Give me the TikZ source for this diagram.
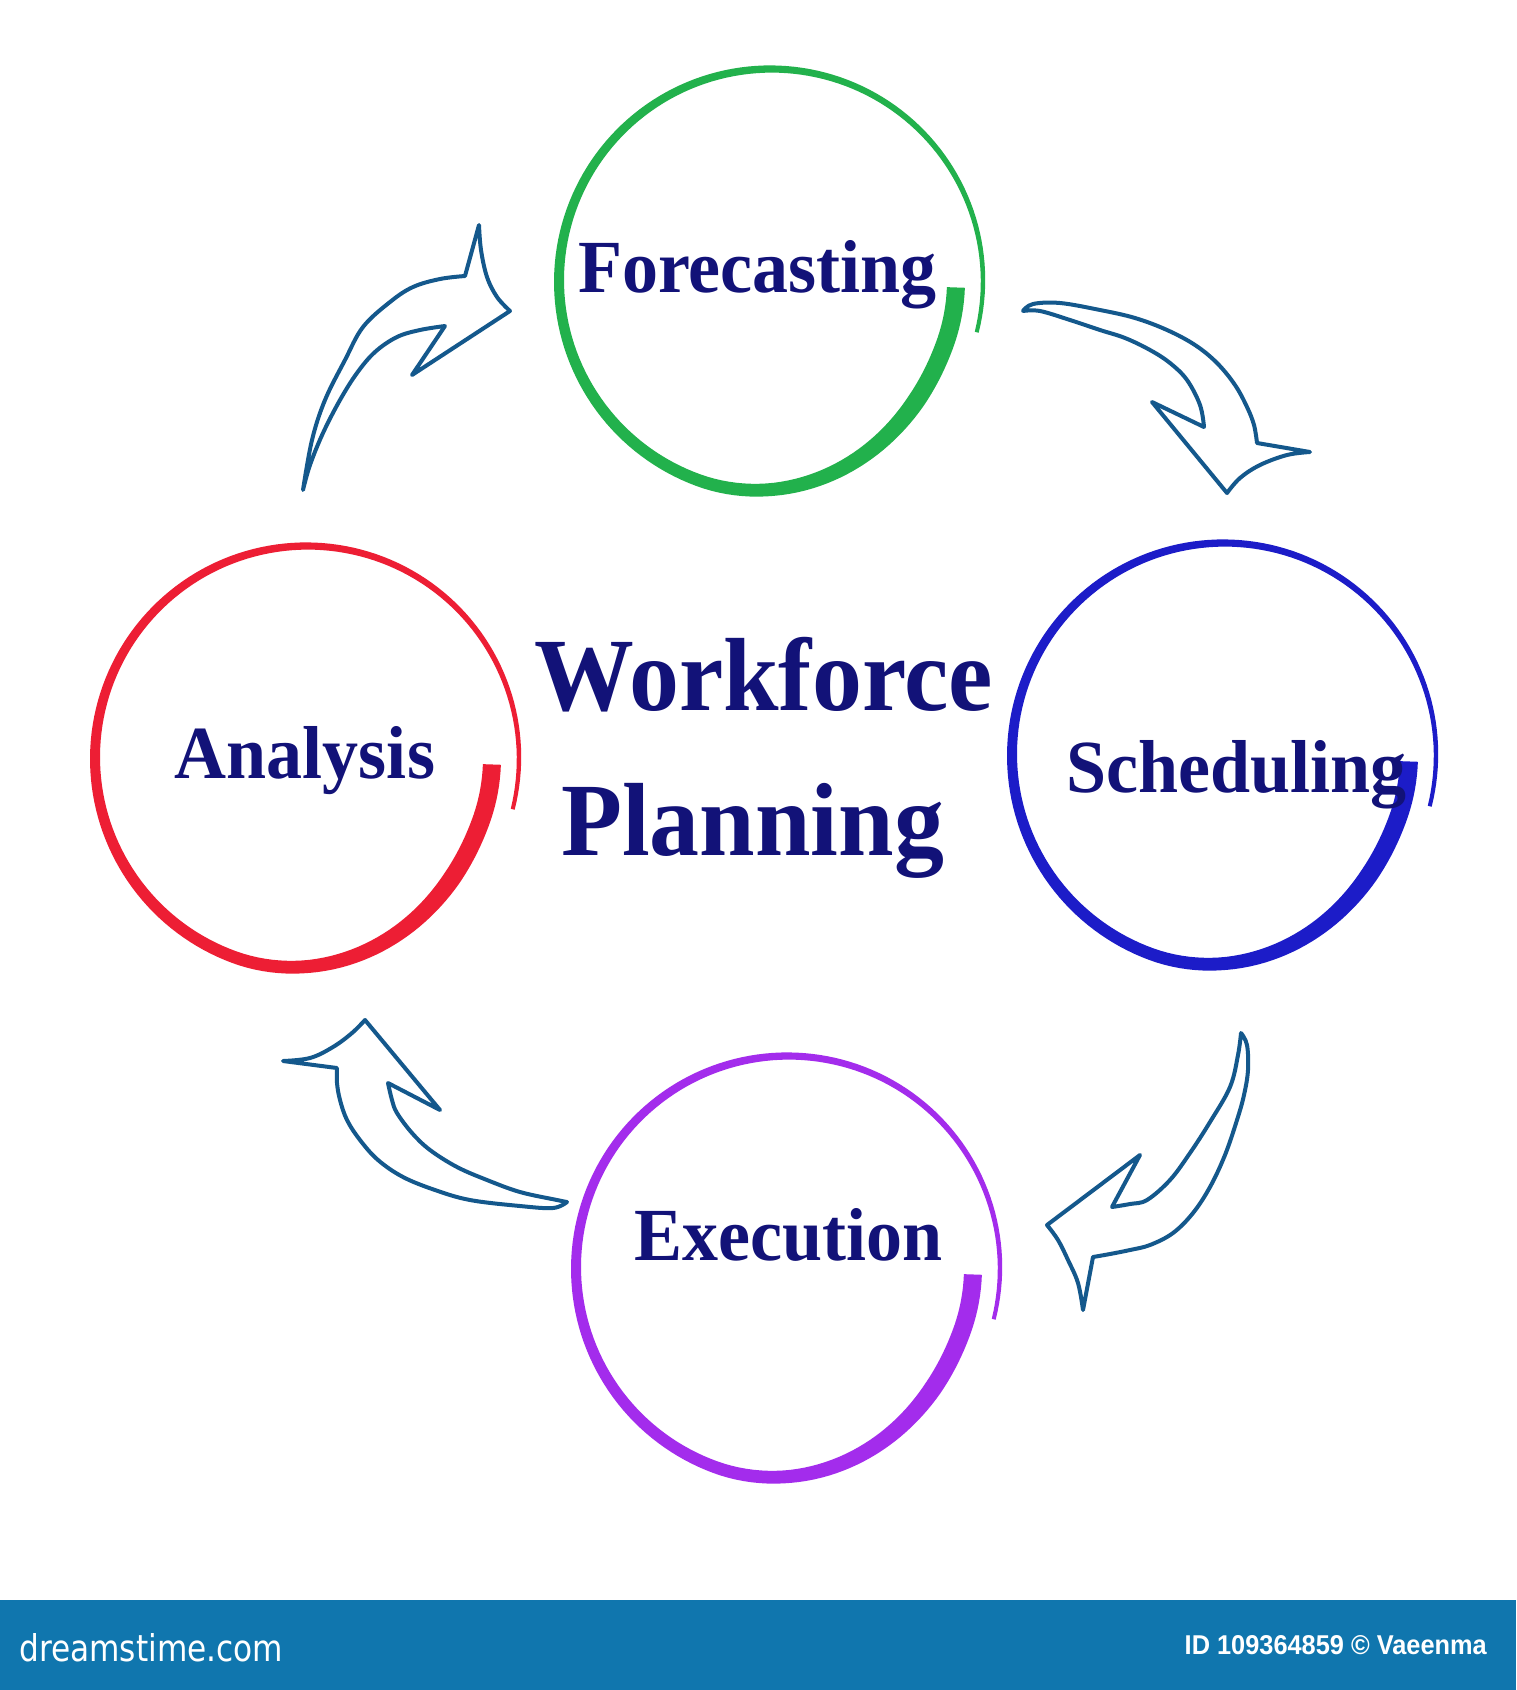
\documentclass[tikz,border=0pt]{standalone}
\usepackage{fontspec}
\usepackage{graphicx}
\setmainfont{Liberation Serif}
\newfontfamily\lblfont{Liberation Serif Bold}
\newfontfamily\barsans{Liberation Sans}
\newfontfamily\logosans{DejaVu Sans}
\definecolor{navy}{RGB}{18,18,120}
\definecolor{cgreen}{RGB}{34,177,76}
\definecolor{cblue}{RGB}{28,28,200}
\definecolor{cred}{RGB}{237,30,52}
\definecolor{cpurple}{RGB}{163,44,236}
\definecolor{arrowblue}{RGB}{20,88,140}
\definecolor{barblue}{RGB}{16,118,174}
\newcommand{\narrow}[1]{\scalebox{0.96}[1]{#1}}
\newcommand{\brushring}[3]{%
  \fill[#3] plot[domain=-14:358, samples=180, variable=\a]
      ({#1+(Rf(\a)+Wf(\a)/2)*cos(\a)}, {#2-(Rf(\a)+Wf(\a)/2)*sin(\a)})
   -- plot[domain=358:-14, samples=180, variable=\a]
      ({#1+(Rf(\a)-Wf(\a)/2)*cos(\a)}, {#2-(Rf(\a)-Wf(\a)/2)*sin(\a)}) -- cycle;}
\begin{document}
\begin{tikzpicture}[x=1pt,y=-1pt,
  declare function={uu(\a)=min(max((\a-250)/90,0),1);
    Rf(\a)=212-27*uu(\a)*uu(\a)*(3-2*uu(\a));
    Wf(\a)=min(4+6*(\a+14)/194,10)+max(0,min(3*(\a-180)/90,3))+max(0,min(5*(\a-270)/50,5));},
  lbl/.style={font=\lblfont\fontsize{75}{80}\selectfont, text=navy, inner sep=0pt, anchor=base},
  title/.style={font=\lblfont\fontsize{104}{110}\selectfont, text=navy, inner sep=0pt, anchor=base},
  arrowshape/.style={draw=arrowblue, fill=white, line width=4pt, line join=round}]
\useasboundingbox (0,0) rectangle (1516,1690);
\fill[white] (0,0) rectangle (1516,1690);

% brush circles
\brushring{771}{281}{cgreen}
\brushring{1224}{755}{cblue}
\brushring{307}{758}{cred}
\brushring{788}{1268}{cpurple}

% labels
\node[lbl] (fc) at (757.5,292) {\narrow{Forecasting}};
\node[lbl] (sc) at (1236.5,792) {\narrow{Scheduling}};
\node[lbl] (an) at (305,778) {\narrow{Analysis}};
\node[lbl] (ex) at (788.5,1260) {\narrow{Execution}};
\node[title] (wf) at (764,710) {\narrow{Workforce}};
\node[title] (pl) at (752.5,855) {\narrow{Planning}};

% arrow: Analysis -> Forecasting
\draw[arrowshape] plot[smooth, tension=0.6] coordinates {(303,490) (312,440) (325,400) (345,360) (363,327) (390,302) (413,287) (440,279) (465,276)}
  -- (479,225)
  -- plot[smooth, tension=0.6] coordinates {(479,225) (481,250) (487,277) (497,297) (510,311)}
  -- (412,375) -- (445,326)
  -- plot[smooth, tension=0.6] coordinates {(445,326) (420,330) (397,337) (375,352) (357,373) (340,400) (323,433) (310,465) (303,490)}
  -- cycle;

% arrow: Forecasting -> Scheduling
\draw[arrowshape] plot[smooth, tension=0.6] coordinates {(1023,311) (1033,304) (1060,303) (1100,310) (1135,318) (1167,330) (1195,345) (1217,363) (1235,385) (1247,407) (1254,425) (1257,443)}
  -- (1310,452)
  -- plot[smooth, tension=0.6] coordinates {(1310,452) (1287,455) (1260,465) (1240,478) (1227,493)}
  -- (1152,402) -- (1204,427)
  -- plot[smooth, tension=0.6] coordinates {(1204,427) (1200,405) (1187,380) (1170,363) (1150,350) (1125,338) (1100,330) (1070,320) (1040,311) (1023,311)}
  -- cycle;

% arrow: Scheduling -> Execution
\draw[arrowshape] plot[smooth, tension=0.6] coordinates {(1241,1033) (1247,1045) (1248,1070) (1244,1095) (1237,1120) (1225,1155) (1210,1187) (1193,1213) (1173,1233) (1150,1245) (1130,1250) (1110,1254) (1093,1257)}
  -- (1083,1310)
  -- plot[smooth, tension=0.6] coordinates {(1083,1310) (1078,1283) (1068,1260) (1058,1240) (1047,1225)}
  -- (1140,1155) -- (1112,1207)
  -- plot[smooth, tension=0.6] coordinates {(1112,1207) (1130,1204) (1147,1200) (1170,1180) (1190,1153) (1210,1122) (1230,1087) (1238,1055) (1241,1033)}
  -- cycle;

% arrow: Execution -> Analysis
\draw[arrowshape] plot[smooth, tension=0.6] coordinates {(567,1202) (553,1208) (520,1206) (470,1200) (435,1190) (403,1177) (378,1160) (360,1140) (347,1120) (340,1100) (337,1083) (337,1068)}
  -- (283,1061)
  -- plot[smooth, tension=0.6] coordinates {(283,1061) (310,1058) (333,1047) (352,1033) (365,1020)}
  -- (440,1110) -- (388,1083)
  -- plot[smooth, tension=0.6] coordinates {(388,1083) (392,1100) (397,1113) (412,1133) (430,1150) (457,1167) (487,1180) (520,1192) (557,1200) (567,1202)}
  -- cycle;

% bottom bar
\fill[barblue] (0,1600) rectangle (1516,1690);
\node[anchor=west, inner sep=0pt, text=white] (logo) at (19,1648)
  {\resizebox{264pt}{28pt}{\logosans dreamstime.com}};
\node[anchor=east, inner sep=0pt, text=white] (credit) at (1487,1645)
  {\resizebox{302pt}{19pt}{\barsans\bfseries ID 109364859 © Vaeenma}};
\end{tikzpicture}
\end{document}
